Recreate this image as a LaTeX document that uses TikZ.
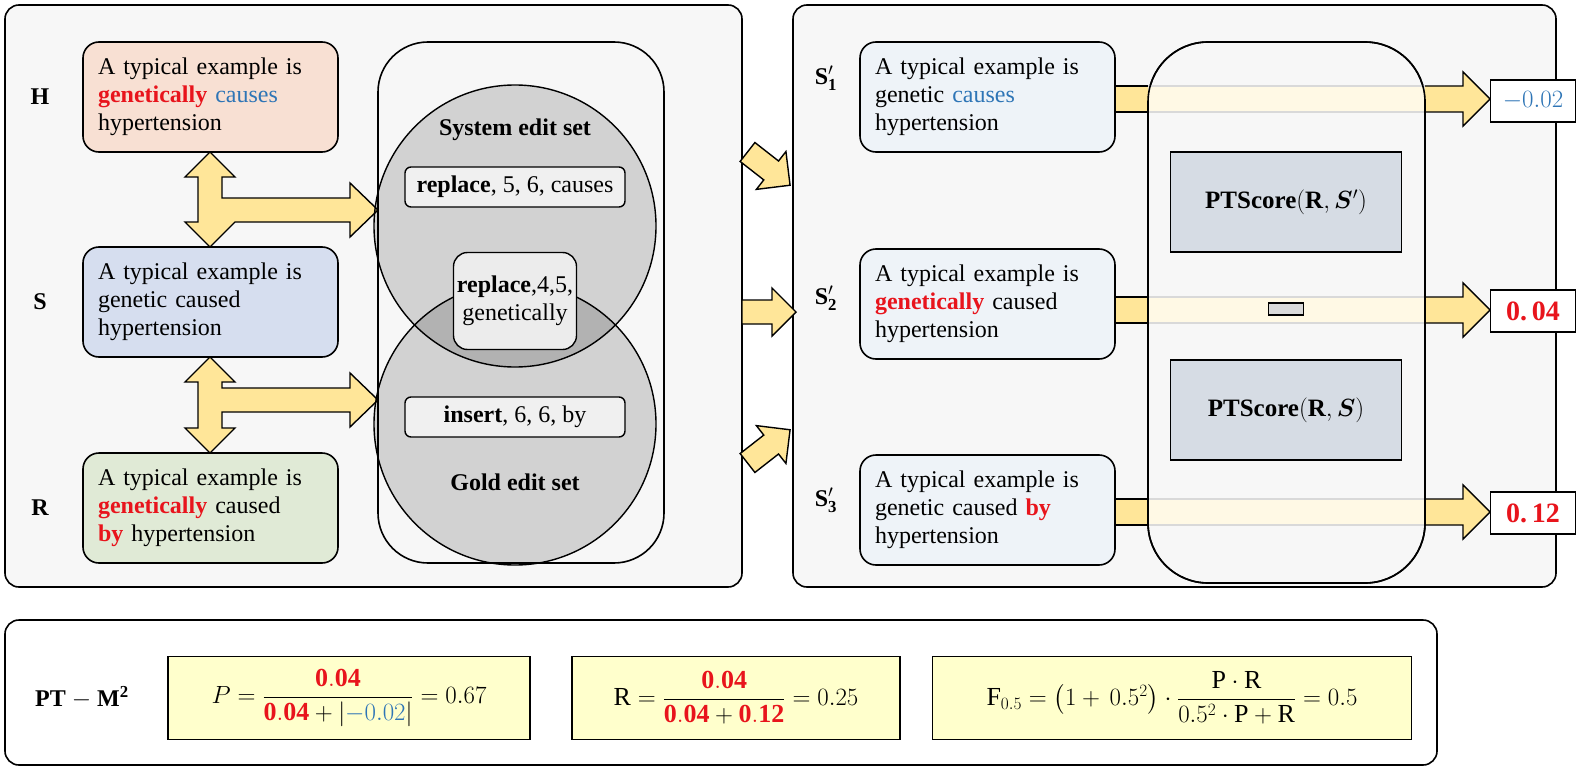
\documentclass[tikz,border=0pt]{standalone}
\usepackage{amsmath,bm}
\usepackage{fontspec}
\setmainfont{Liberation Serif}
\definecolor{rd}{HTML}{E8141C}
\definecolor{bl}{HTML}{2E75B6}
\definecolor{yel}{HTML}{FFE699}
\definecolor{panel}{HTML}{F7F7F7}
\definecolor{hbox}{HTML}{F8E0D3}
\definecolor{sbox}{HTML}{D6DEEF}
\definecolor{rbox}{HTML}{E0EAD6}
\definecolor{spbox}{HTML}{EEF3F8}
\definecolor{ptbox}{HTML}{D6DCE4}
\definecolor{fbox}{HTML}{FFFFCC}
\begin{document}
\begin{tikzpicture}[x=1pt,y=-1pt,
  every node/.style={font=\fontsize{24}{28}\selectfont},
  pan/.style={draw=black,line width=1.6pt,rounded corners=14pt,fill=panel},
  txt/.style={draw=black,line width=1.6pt,rounded corners=16pt,minimum width=255pt,minimum height=110pt,text width=225pt,align=left,inner sep=0pt},
  lab/.style={font=\fontsize{24}{28}\selectfont\bfseries},
  edit/.style={draw=black,line width=1.4pt,rounded corners=6pt,fill=gray!12,minimum width=220pt,minimum height=40pt,inner sep=0pt},
  yarrow/.style={draw=black,line width=1.4pt,fill=yel},
  val/.style={draw=black,line width=1.6pt,fill=white,minimum width=85pt,minimum height=42pt,inner sep=0pt,font=\fontsize{28}{30}\selectfont},
  ptb/.style={draw=black,line width=1.6pt,fill=ptbox,minimum width=231pt,minimum height=100pt,font=\fontsize{25}{28}\selectfont\bfseries},
  frm/.style={draw=black,line width=1.4pt,fill=fbox,minimum height=83pt,inner sep=0pt,font=\fontsize{26}{28}\selectfont}
]
\useasboundingbox (0,0) rectangle (1581,773);
% panels
\draw[pan] (5,5) rectangle (742,587);
\draw[pan] (793,5) rectangle (1556,587);
\draw[pan,fill=white] (5,620) rectangle (1437,765);

% left side
\node[txt,fill=hbox] (H) at (210.5,97) {A typical example is\\\textbf{\color{rd}genetically} {\color{bl}causes}\\hypertension};
\node[txt,fill=sbox] (S) at (210.5,302) {A typical example is\\genetic caused\\hypertension};
\node[txt,fill=rbox] (R) at (210.5,508) {A typical example is\\\textbf{\color{rd}genetically} caused\\\textbf{\color{rd}by} hypertension};
\node[lab] (lH) at (40,97) {H};
\node[lab] (lS) at (40,302) {S};
\node[lab] (lR) at (40,508) {R};

% T arrows
\draw[yarrow] (210,152)--(235,177)--(222,177)--(222,198)--(350,198)--(350,183)--(378,210)--(350,237)--(350,222)--(235,222)--(210,247)--(185,222)--(198,222)--(198,177)--(185,177)--cycle;
\draw[yarrow] (210,357)--(235,382)--(222,382)--(222,388)--(350,388)--(350,373)--(378,400)--(350,427)--(350,412)--(222,412)--(222,428)--(235,428)--(210,453)--(185,428)--(198,428)--(198,382)--(185,382)--cycle;

% venn container
\draw[line width=1.6pt,rounded corners=50pt,fill=white!97!black] (378,42) rectangle (664,563);
\fill[black,opacity=0.15] (515,226) circle (141);
\fill[black,opacity=0.15] (515,424) circle (141);
\draw[line width=1.4pt] (515,226) circle (141);
\draw[line width=1.4pt] (515,424) circle (141);
\node[lab] (sys) at (515,130) {System edit set};
\node[lab] (gold) at (515,482) {Gold edit set};
\node[edit] (e1) at (515,187) {\textbf{replace}, 5, 6, causes};
\node[edit,minimum width=123pt,minimum height=97pt,rounded corners=14pt,align=center,fill=gray!15] (e2) at (515,301) {\textbf{replace},4,5,\\genetically};
\node[edit] (e3) at (515,417) {\textbf{insert}, 6, 6, by};

% middle arrows
\foreach \cy/\ang in {168/-38,312/0,447/38}{
  \begin{scope}[shift={(768,\cy)},rotate=\ang]
    \draw[yarrow] (-26,-12)--(4,-12)--(4,-24)--(28,0)--(4,24)--(4,12)--(-26,12)--cycle;
  \end{scope}
}

% right side container and bands
\draw[line width=1.6pt,rounded corners=60pt,fill=panel] (1148,42) rectangle (1425,583);
\foreach \y in {99,310,512}{
  \fill[yel!25] (1148,\y-13) rectangle (1425,\y+13);
  \draw[gray!30,line width=1.2pt] (1148,\y+13)--(1425,\y+13) (1148,\y-13)--(1425,\y-13);
  \fill[yel] (1110,\y-13) rectangle (1148,\y+13);
  \draw[black,line width=1.4pt] (1110,\y-13)--(1148,\y-13) (1110,\y+13)--(1148,\y+13);
  \draw[yarrow] (1425,\y-13)--(1463,\y-13)--(1463,\y-27)--(1490,\y)--(1463,\y+27)--(1463,\y+13)--(1425,\y+13);
}
\draw[line width=1.6pt,rounded corners=60pt] (1148,42) rectangle (1425,583);
\draw[line width=1.4pt] (1556,50)--(1556,560);

\node[txt,fill=spbox] (S1) at (987.5,97) {A typical example is\\genetic {\color{bl}causes}\\hypertension};
\node[txt,fill=spbox] (S2) at (987.5,304) {A typical example is\\\textbf{\color{rd}genetically} caused\\hypertension};
\node[txt,fill=spbox] (S3) at (987.5,510) {A typical example is\\genetic caused \textbf{\color{rd}by}\\hypertension};
\node[lab] (l1) at (826,78) {$\mathbf{S}'_{\mathbf 1}$};
\node[lab] (l2) at (826,298) {$\mathbf{S}'_{\mathbf 2}$};
\node[lab] (l3) at (826,500) {$\mathbf{S}'_{\mathbf 3}$};

\node[ptb] (p1) at (1286,202) {PTScore$(\mathbf{R},\bm{S}')$};
\node[ptb] (p2) at (1286,410) {PTScore$(\mathbf{R},\bm{S})$};
\node[draw=black,line width=1.2pt,fill=gray!30,minimum width=35pt,minimum height=12pt,inner sep=0pt] (mid) at (1286,309) {};

\node[val,text=bl] (v1) at (1533,101) {$-0.02$};
\node[val,text=rd] (v2) at (1533,311) {\textbf{0.\,04}};
\node[val,text=rd] (v3) at (1533,513) {\textbf{0.\,12}};

% bottom
\node[lab] (pt) at (82,697) {PT $-$ M$^{\mathbf 2}$};
\node[frm,minimum width=362pt] (f1) at (349,698) {$P=\dfrac{\textcolor{rd}{\mathbf{0.04}}}{\textcolor{rd}{\mathbf{0.04}}+|\textcolor{bl}{-0.02}|}=0.67$};
\node[frm,minimum width=328pt] (f2) at (736,698) {$\mathrm{R}=\dfrac{\textcolor{rd}{\mathbf{0.04}}}{\textcolor{rd}{\mathbf{0.04}}+\textcolor{rd}{\mathbf{0.12}}}=0.25$};
\node[frm,minimum width=479pt] (f3) at (1172,698) {$\mathrm{F}_{0.5}=\left(1+\,0.5^2\right)\cdot\dfrac{\mathrm{P}\cdot\mathrm{R}}{0.5^2\cdot\mathrm{P}+\mathrm{R}}=0.5$};
\end{tikzpicture}
\end{document}
